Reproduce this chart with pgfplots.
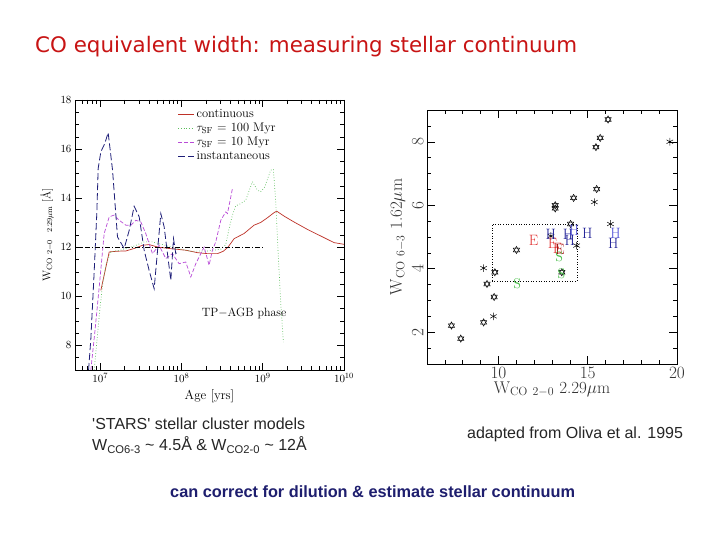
\documentclass[border=0pt]{standalone}
\usepackage{fontspec}
\usepackage{pgfplots}
\pgfplotsset{compat=1.18}
\newfontfamily\arial{Liberation Sans}
\newfontfamily\titlefont{DejaVu Sans}
\definecolor{titlered}{RGB}{200,20,20}
\definecolor{navytext}{RGB}{30,30,110}
\definecolor{contred}{RGB}{190,50,40}
\definecolor{sfgreen}{RGB}{90,190,90}
\definecolor{sfpurple}{RGB}{185,75,215}
\definecolor{instblue}{RGB}{30,30,120}
\definecolor{ered}{RGB}{225,50,50}
\definecolor{edred}{RGB}{160,15,15}
\definecolor{hblue}{RGB}{30,30,150}
\definecolor{hlblue}{RGB}{80,80,215}
\definecolor{sgreen}{RGB}{70,190,70}
\begin{document}
\begin{tikzpicture}[x=1pt,y=1pt]
\useasboundingbox (0pt,0pt) rectangle (720pt,540pt);
\fill[white] (0pt,0pt) rectangle (720pt,540pt);
% slide texts
\node[anchor=base west, inner sep=0, text=titlered, font=\titlefont\fontsize{21.4}{24}\selectfont] at (35pt,487pt) {CO equivalent width: measuring stellar continuum};
\node[anchor=base west, inner sep=0, text=black!85, font=\arial\fontsize{16}{18}\selectfont] at (92pt,110pt) {\textquotesingle STARS\textquotesingle\ stellar cluster models};
\node[anchor=base west, inner sep=0, text=black!85, font=\arial\fontsize{16}{18}\selectfont] at (92pt,89pt) {W\textsubscript{CO6-3} \textasciitilde\ 4.5Å \& W\textsubscript{CO2-0} \textasciitilde\ 12Å};
\node[anchor=base west, inner sep=0, text=black!85, font=\arial\fontsize{16}{18}\selectfont] at (467pt,101pt) {adapted from Oliva et al. 1995};
\node[anchor=base west, inner sep=0, text=navytext, font=\arial\bfseries\fontsize{16.3}{19}\selectfont] at (170pt,42pt) {can correct for dilution \& estimate stellar continuum};

% ---------------- left plot ----------------
\begin{axis}[
  at={(75pt,170pt)}, anchor=south west, scale only axis,
  width=269pt, height=270pt,
  xmin=6.69, xmax=10, ymin=7, ymax=18,
  xtick={7,8,9,10},
  xticklabels={$10^{7}$,$10^{8}$,$10^{9}$,$10^{10}$},
  minor xtick={6.778,6.845,6.903,6.954,7.301,7.477,7.602,7.699,7.778,7.845,7.903,7.954,8.301,8.477,8.602,8.699,8.778,8.845,8.903,8.954,9.301,9.477,9.602,9.699,9.778,9.845,9.903,9.954},
  ytick={8,10,...,18}, minor ytick={7,7.5,...,18},
  tick align=inside, major tick length=7pt, minor tick length=4pt,
  every tick/.style={black, line width=0.5pt},
  axis line style={line width=0.7pt},
  tick label style={font=\fontsize{11}{13}\selectfont},
  xlabel={Age [yrs]},
  ylabel={W$_{\mathrm{CO\ 2-0\ \ 2.29\mu m}}$ [Å]},
  xlabel style={font=\fontsize{13}{14}\selectfont},
  ylabel style={font=\fontsize{11}{13}\selectfont},
  legend style={at={(0.37,0.975)}, anchor=north west, draw=none, fill=none,
    font=\fontsize{12.5}{13}\selectfont, row sep=3pt,
    nodes={inner ysep=0.5pt}},
  legend cell align=left,
  legend image code/.code={\draw[#1, line width=0.9pt] (0pt,0pt) -- (16pt,0pt);},
]
\addplot[contred, line width=0.7pt] coordinates {
(7.008,10.24) (7.057,10.99) (7.111,11.81) (7.213,11.84) (7.316,11.85) (7.418,11.95)
(7.520,12.08) (7.602,12.11) (7.705,12.01) (7.848,11.95) (8.053,11.88) (8.197,11.78)
(8.320,11.74) (8.443,11.74) (8.516,11.84) (8.574,12.01) (8.648,12.35) (8.770,12.56)
(8.893,12.90) (8.975,13.01) (9.057,13.20) (9.139,13.41) (9.172,13.47) (9.262,13.27)
(9.385,13.03) (9.549,12.73) (9.713,12.46) (9.877,12.19) (10.0,12.12)};
\addlegendentry{continuous}
\addplot[sfgreen, dotted, line width=0.7pt] coordinates {
(6.926,7.0) (6.959,8.14) (6.992,9.36) (7.029,10.45) (7.070,11.27) (7.131,11.81)
(7.254,11.89) (7.418,12.05) (7.541,12.22) (7.643,12.22) (7.766,12.11) (7.910,11.97)
(8.115,11.84) (8.320,11.85) (8.484,11.92) (8.545,12.11) (8.586,12.76) (8.627,13.31)
(8.668,13.69) (8.730,13.78) (8.791,13.92) (8.873,14.67) (8.934,14.33) (8.975,14.26)
(9.025,14.46) (9.098,15.14) (9.131,15.18) (9.160,13.85) (9.189,11.81) (9.221,9.77)
(9.254,8.14)};
\addlegendentry{$\tau_{\mathrm{SF}}$ = 100 Myr}
\addplot[sfpurple, dash pattern=on 4pt off 2pt, line width=0.7pt] coordinates {
(6.885,7.0) (6.934,8.54) (6.988,10.38) (7.049,12.56) (7.111,13.24) (7.172,13.31)
(7.234,13.10) (7.316,12.90) (7.377,12.90) (7.439,13.10) (7.500,13.03) (7.561,12.56)
(7.643,11.74) (7.725,12.08) (7.807,11.54) (7.889,11.74) (7.971,11.33) (8.053,11.40)
(8.115,10.79) (8.176,11.33) (8.238,11.74) (8.279,12.01) (8.340,11.27) (8.381,11.88)
(8.422,12.22) (8.484,13.10) (8.545,13.44) (8.566,13.37) (8.607,14.05) (8.627,14.39)};
\addlegendentry{$\tau_{\mathrm{SF}}$ = 10 Myr}
\addplot[instblue, dash pattern=on 7pt off 3pt, line width=0.8pt] coordinates {
(6.857,7.0) (6.885,8.27) (6.926,11.0) (6.959,13.44) (6.975,15.21) (7.008,15.89)
(7.057,16.23) (7.098,16.67) (7.152,15.14) (7.213,12.42) (7.295,11.95) (7.357,12.69)
(7.418,13.67) (7.480,13.24) (7.541,11.88) (7.602,11.06) (7.664,10.31) (7.746,13.37)
(7.787,12.83) (7.869,10.65) (7.902,12.35) (7.930,11.74) (7.951,11.81)};
\addlegendentry{instantaneous}
\addplot[black, dash pattern=on 5pt off 2pt on 1pt off 2pt, line width=0.5pt, forget plot] coordinates {(6.69,12) (9.0,12)};
\node[font=\fontsize{12}{13}\selectfont] at (axis cs:8.77,9.32) {TP$-$AGB phase};
\end{axis}

% ---------------- right plot ----------------
\begin{axis}[
  at={(427pt,176pt)}, anchor=south west, scale only axis,
  width=250pt, height=254pt,
  xmin=6, xmax=20, ymin=1, ymax=9,
  xtick={10,15,20}, minor xtick={6,...,20},
  ytick={2,4,6,8}, minor ytick={1,1.5,...,9},
  tick align=inside, major tick length=8pt, minor tick length=4pt,
  every tick/.style={black, line width=0.5pt},
  axis line style={line width=0.7pt},
  tick label style={font=\fontsize{17}{19}\selectfont, text=black!80},
  yticklabel style={rotate=90, anchor=south},
  xlabel={W$_{\mathrm{CO\ 2-0}}$\ 2.29$\mu$m},
  ylabel={W$_{\mathrm{CO\ 6-3}}$\ 1.62$\mu$m},
  label style={font=\fontsize{17}{19}\selectfont, text=black!80},
  xlabel style={yshift=4pt},
]
\addplot[black, dotted, line width=0.6pt] coordinates {(9.63,3.62) (14.41,3.62) (14.41,5.41) (9.63,5.41) (9.63,3.62)};
% open six-pointed stars: two overlaid triangles
\addplot[only marks, mark=triangle, mark size=3.6pt, black, mark options={line width=0.5pt}] coordinates {
(7.37,2.21) (7.89,1.80) (9.17,2.31) (9.36,3.52) (9.76,3.11) (9.80,3.89) (11.01,4.59)
(13.18,6.00) (13.18,5.90) (14.21,6.23) (14.04,5.41) (15.46,7.83) (15.70,8.12)
(16.14,8.70) (15.50,6.51) (13.55,3.89)};
\addplot[only marks, mark=triangle, mark size=3.6pt, black, mark options={rotate=180, line width=0.5pt}] coordinates {
(7.37,2.21) (7.89,1.80) (9.17,2.31) (9.36,3.52) (9.76,3.11) (9.80,3.89) (11.01,4.59)
(13.18,6.00) (13.18,5.90) (14.21,6.23) (14.04,5.41) (15.46,7.83) (15.70,8.12)
(16.14,8.70) (15.50,6.51) (13.55,3.89)};
% asterisks
\addplot[only marks, mark=asterisk, mark size=3.8pt, black, mark options={line width=0.5pt}] coordinates {
(9.17,4.02) (9.72,2.50) (12.94,5.03) (14.38,4.73) (15.37,6.10) (16.27,5.41) (19.6,8.0)};
% letters
\addplot[only marks, mark=text, text mark=E, ered, text mark as node=true,
  text mark style={font=\fontsize{15}{15}\selectfont}] coordinates {
(11.97,4.88) (13.03,4.80) (13.31,4.64)};
\addplot[only marks, mark=text, text mark=E, edred, text mark as node=true,
  text mark style={font=\fontsize{15}{15}\selectfont}] coordinates {(13.44,4.60)};
\addplot[only marks, mark=text, text mark=H, hblue, text mark as node=true,
  text mark style={font=\fontsize{15}{15}\selectfont}] coordinates {
(12.94,5.08) (13.90,5.08) (14.00,4.90) (14.98,5.11) (16.43,4.80)};
\addplot[only marks, mark=text, text mark=H, hlblue, text mark as node=true,
  text mark style={font=\fontsize{15}{15}\selectfont}] coordinates {
(14.23,5.22) (16.56,5.11)};
\addplot[only marks, mark=text, text mark=S, sgreen, text mark as node=true,
  text mark style={font=\fontsize{14}{14}\selectfont}] coordinates {
(11.05,3.52) (13.40,4.38) (13.53,3.83)};
\end{axis}
\end{tikzpicture}
\end{document}
